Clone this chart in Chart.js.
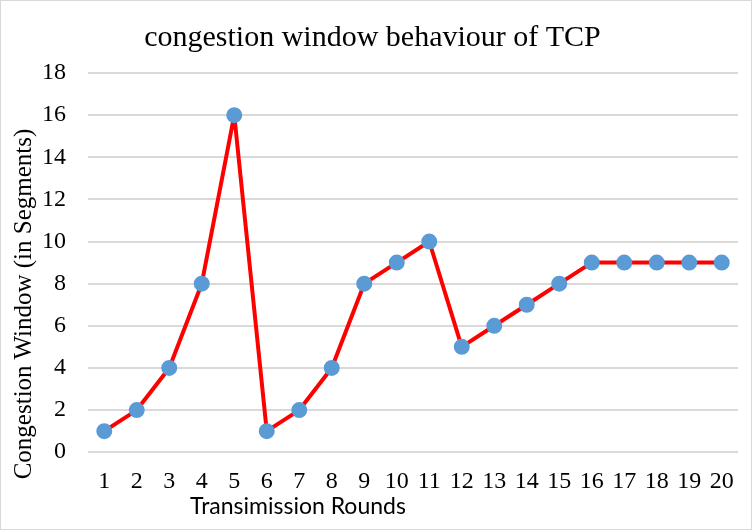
<!DOCTYPE html>
<html>
<head>
<meta charset="utf-8">
<script src="https://cdn.jsdelivr.net/npm/chart.js@4.4.1/dist/chart.umd.min.js"></script>
<style>
  html, body { margin: 0; padding: 0; background: #fff; }
  #box {
    position: relative;
    width: 752px; height: 530px;
    box-sizing: border-box;
    border: 1px solid #d9d9d9;
  }
  #xtitulo {
    position: absolute;
    left: 0; width: 594px; top: 490px;
    text-align: center;
    font-family: Lato, "Liberation Sans", sans-serif;
    font-size: 23px;
    color: #000;
  }
  #ytitulo {
    position: absolute;
    left: -178px; top: 288px;
    width: 400px; height: 30px; line-height: 30px;
    text-align: center;
    transform: rotate(-90deg);
    font-family: "Liberation Serif", "Times New Roman", serif;
    font-size: 25px;
    color: #000;
    white-space: nowrap;
  }
</style>
</head>
<body>
<div id="box">
  <canvas id="grafico"></canvas>
  <div id="ytitulo">Congestion Window (in Segments)</div>
  <div id="xtitulo">Transimission Rounds</div>
</div>
<script>
// Rodadas e janela de congestionamento (segmentos)
const rodadas = ["1","2","3","4","5","6","7","8","9","10","11","12","13","14","15","16","17","18","19","20"];
const janela = [1, 2, 4, 8, 16, 1, 2, 4, 8, 9, 10, 5, 6, 7, 8, 9, 9, 9, 9, 9];
const ticksY = [0, 2, 4, 6, 8, 10, 12, 14, 16, 18];

const SERIF = "'Liberation Serif', 'Times New Roman', serif";

new Chart(document.getElementById("grafico"), {
  type: "line",
  data: {
    labels: rodadas,
    datasets: [{
      data: janela,
      borderColor: "#ff0000",
      borderWidth: 4,
      borderJoinStyle: "round",
      pointBackgroundColor: "#5b9bd5",
      pointBorderColor: "#5b9bd5",
      pointRadius: 6,
      tension: 0,
    }],
  },
  options: {
    responsive: true,
    maintainAspectRatio: false,
    animation: false,
    layout: { padding: { left: 6, right: 13, top: 13, bottom: 26 } },
    plugins: {
      legend: { display: false },
      tooltip: { enabled: false },
      title: {
        display: true,
        text: "congestion window behaviour of TCP",
        color: "#000",
        font: { family: SERIF, size: 30, weight: "normal" },
        padding: { top: 6, bottom: 17 },
      },
    },
    scales: {
      x: {
        offset: true,
        grid: { display: false },
        border: { display: false },
        ticks: { color: "#000", font: { family: SERIF, size: 24 }, maxRotation: 0, autoSkip: false, padding: 7 },
      },
      y: {
        min: 0,
        max: 18,
        afterBuildTicks: (eixo) => { eixo.ticks = ticksY.map((v) => ({ value: v })); },
        afterFit: (eixo) => { eixo.width = 81; },
        grid: { color: "#d9d9d9", lineWidth: 2, drawTicks: false },
        border: { display: false },
        ticks: { color: "#000", font: { family: SERIF, size: 24 }, padding: 22 },
      },
    },
  },
});
</script>
</body>
</html>
